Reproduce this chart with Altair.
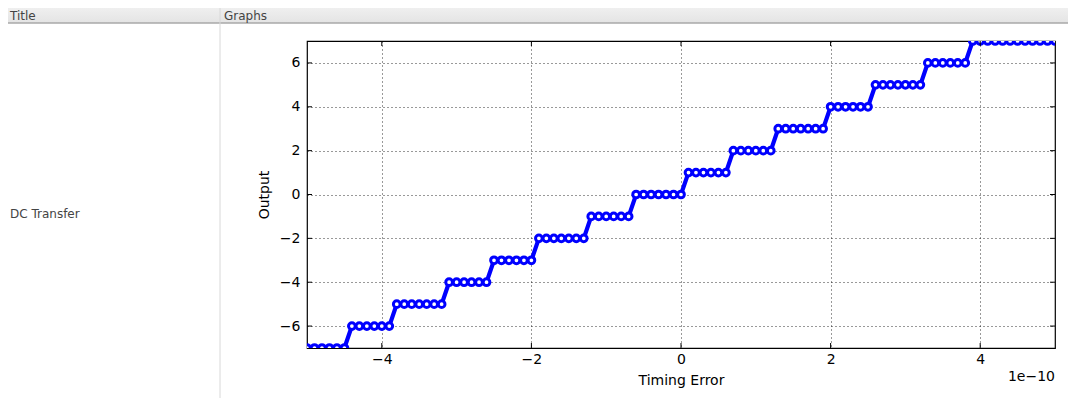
import altair as alt
import pandas as pd

# Timing error samples (units of 1e-10 s)
x_values = [round(-5.0 + 0.1 * i, 1) for i in range(101)]
# Quantizer output
y_values = [
    -7, -7, -7, -7, -7, -7,
    -6, -6, -6, -6, -6, -6,
    -5, -5, -5, -5, -5, -5, -5,
    -4, -4, -4, -4, -4, -4,
    -3, -3, -3, -3, -3, -3,
    -2, -2, -2, -2, -2, -2, -2,
    -1, -1, -1, -1, -1, -1,
    0, 0, 0, 0, 0, 0, 0,
    1, 1, 1, 1, 1, 1,
    2, 2, 2, 2, 2, 2,
    3, 3, 3, 3, 3, 3, 3,
    4, 4, 4, 4, 4, 4,
    5, 5, 5, 5, 5, 5, 5,
    6, 6, 6, 6, 6, 6,
    7, 7, 7, 7, 7, 7, 7, 7, 7, 7, 7, 7,
]
x_ticks = [-4, -2, 0, 2, 4]
y_ticks = [-6, -4, -2, 0, 2, 4, 6]
row_title = "DC Transfer"
header_left = "Title"
header_right = "Graphs"
x_title = "Timing Error"
y_title = "Output"
x_exponent = "1e\u221210"

W, H = 748, 307
df = pd.DataFrame({"x": x_values, "y": y_values})
xt = pd.DataFrame({"x": x_ticks})
yt = pd.DataFrame({"y": y_ticks})
one = alt.Data(values=[{"a": 1}])

xs = alt.Scale(domain=[-5, 5], nice=False, zero=False)
ys = alt.Scale(domain=[-7, 7], nice=False, zero=False)

# --- page decorations (table-like UI) ---
header_bg = alt.Chart(one).mark_rect(
    color=alt.Gradient(
        gradient="linear",
        stops=[alt.GradientStop(color="#efefef", offset=0),
               alt.GradientStop(color="#e4e4e4", offset=1)],
        x1=0, x2=0, y1=0, y2=1,
    )
).encode(x=alt.value(-299), x2=alt.value(761), y=alt.value(-33), y2=alt.value(-18))
header_line = alt.Chart(one).mark_rule(color="#a8a8a8", strokeWidth=1.5).encode(
    x=alt.value(-299), x2=alt.value(761), y=alt.value(-18))
divider = alt.Chart(one).mark_rule(color="#d8d8d8", strokeWidth=1).encode(
    x=alt.value(-87), y=alt.value(-33), y2=alt.value(360))
t_title = alt.Chart(one).mark_text(text=header_left, align="left", baseline="middle",
                                   font="DejaVu Sans", fontSize=12, color="#444").encode(
    x=alt.value(-297), y=alt.value(-25.5))
t_graphs = alt.Chart(one).mark_text(text=header_right, align="left", baseline="middle",
                                    font="DejaVu Sans", fontSize=12, color="#444").encode(
    x=alt.value(-83), y=alt.value(-25.5))
t_row = alt.Chart(one).mark_text(text=row_title, align="left", baseline="middle",
                                 font="DejaVu Sans", fontSize=12, color="#444").encode(
    x=alt.value(-297), y=alt.value(173))
t_exp = alt.Chart(one).mark_text(text=x_exponent, align="right", baseline="middle",
                                 font="DejaVu Sans", fontSize=14, color="black").encode(
    x=alt.value(W), y=alt.value(336))

# --- plot ---
base = alt.Chart(df).encode(
    x=alt.X("x:Q", scale=xs, title=x_title,
            axis=alt.Axis(values=x_ticks, format="d", labelPadding=4, titlePadding=7)),
    y=alt.Y("y:Q", scale=ys, title=y_title,
            axis=alt.Axis(values=y_ticks, format="d", labelPadding=7, titlePadding=8)),
)
line = base.mark_line(color="#0000ff", strokeWidth=4.2, clip=True)
pts = base.mark_point(shape="circle", filled=True, fill="white", stroke="#0000ff",
                      strokeWidth=3, size=45, opacity=1, clip=True)

# inward ticks
tick_b = alt.Chart(xt).mark_rule(color="black").encode(
    x=alt.X("x:Q", scale=xs), y=alt.value(H), y2=alt.value(H - 5))
tick_t = alt.Chart(xt).mark_rule(color="black").encode(
    x=alt.X("x:Q", scale=xs), y=alt.value(0), y2=alt.value(5))
tick_l = alt.Chart(yt).mark_rule(color="black").encode(
    y=alt.Y("y:Q", scale=ys), x=alt.value(0), x2=alt.value(5))
tick_r = alt.Chart(yt).mark_rule(color="black").encode(
    y=alt.Y("y:Q", scale=ys), x=alt.value(W), x2=alt.value(W - 5))

chart = alt.layer(
    header_bg, header_line, divider, t_title, t_graphs, t_row,
    line, pts, tick_b, tick_t, tick_l, tick_r, t_exp,
).properties(
    width=W, height=H,
    autosize=alt.AutoSizeParams(type="none"),
    padding={"left": 299, "top": 33, "right": 13, "bottom": 50},
    background="white",
).configure_view(
    stroke="black", strokeWidth=1.2
).configure_axis(
    labelFont="DejaVu Sans", labelFontSize=14, labelColor="black",
    titleFont="DejaVu Sans", titleFontSize=14, titleFontWeight="normal", titleColor="black",
    grid=True, gridColor="black", gridDash=[1, 3], gridWidth=1, gridOpacity=0.8,
    ticks=False, domain=False,
)

chart.save("out.html", embed_options={"renderer": "svg", "actions": False})
